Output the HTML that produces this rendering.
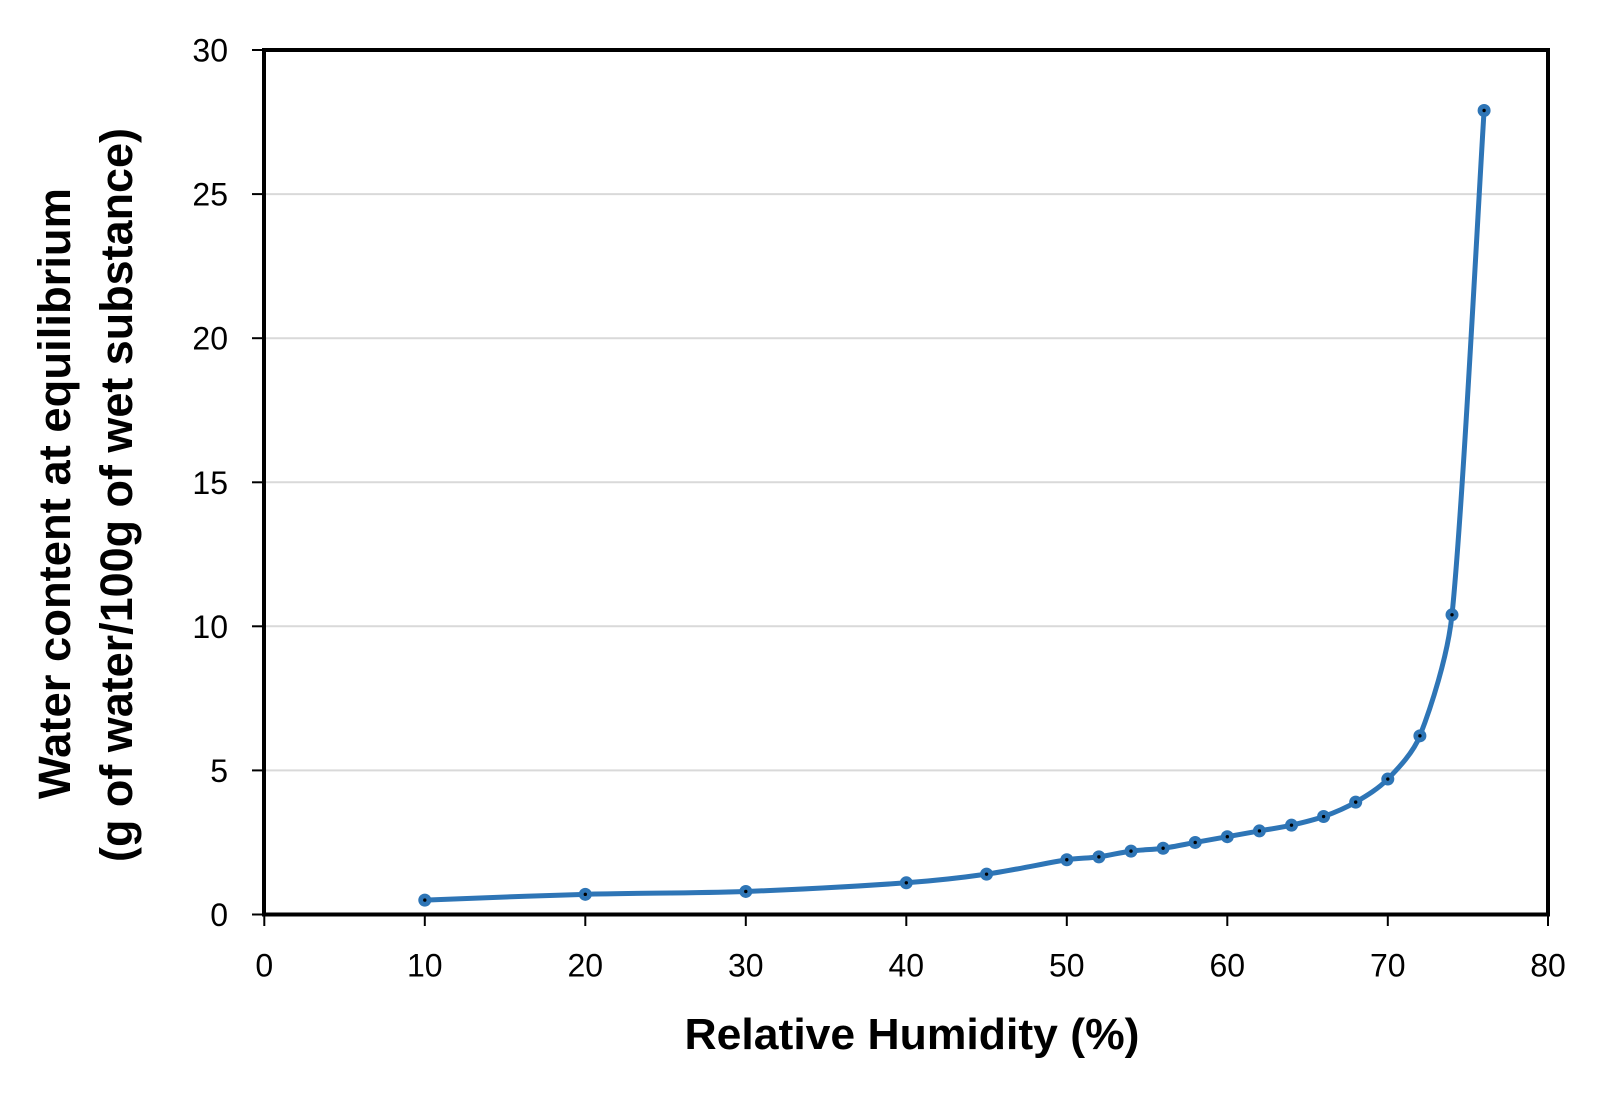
<!DOCTYPE html>
<html>
<head>
<meta charset="utf-8">
<style>
  html,body{margin:0;padding:0;background:#fff;}
  svg{display:block;}
  text{font-family:"Liberation Sans",Arial,sans-serif;fill:#000;}
</style>
</head>
<body>
<svg id="chart" width="1600" height="1097" viewBox="0 0 1600 1097" xmlns="http://www.w3.org/2000/svg">
  <rect x="0" y="0" width="1600" height="1097" fill="#fff"/>
  <!-- gridlines -->
  <g stroke="#d9d9d9" stroke-width="2">
    <line x1="266" y1="770.4" x2="1546" y2="770.4"/>
    <line x1="266" y1="626.3" x2="1546" y2="626.3"/>
    <line x1="266" y1="482.3" x2="1546" y2="482.3"/>
    <line x1="266" y1="338.2" x2="1546" y2="338.2"/>
    <line x1="266" y1="194.1" x2="1546" y2="194.1"/>
  </g>
  <!-- ticks -->
  <g stroke="#000" stroke-width="2">
    <line x1="252" y1="914.5" x2="264" y2="914.5"/>
    <line x1="252" y1="770.4" x2="264" y2="770.4"/>
    <line x1="252" y1="626.3" x2="264" y2="626.3"/>
    <line x1="252" y1="482.3" x2="264" y2="482.3"/>
    <line x1="252" y1="338.2" x2="264" y2="338.2"/>
    <line x1="252" y1="194.1" x2="264" y2="194.1"/>
    <line x1="252" y1="50" x2="264" y2="50"/>
    <line x1="264.3" y1="914" x2="264.3" y2="926"/>
    <line x1="424.8" y1="914" x2="424.8" y2="926"/>
    <line x1="585.3" y1="914" x2="585.3" y2="926"/>
    <line x1="745.8" y1="914" x2="745.8" y2="926"/>
    <line x1="906.3" y1="914" x2="906.3" y2="926"/>
    <line x1="1066.8" y1="914" x2="1066.8" y2="926"/>
    <line x1="1227.3" y1="914" x2="1227.3" y2="926"/>
    <line x1="1387.8" y1="914" x2="1387.8" y2="926"/>
    <line x1="1548" y1="914" x2="1548" y2="926"/>
  </g>
  <!-- frame -->
  <rect x="264" y="50" width="1284" height="864.5" fill="none" stroke="#000" stroke-width="4"/>

  <!-- y tick labels -->
  <g font-size="32" text-anchor="end">
    <text x="228" y="926">0</text>
    <text x="228" y="781.9">5</text>
    <text x="228" y="637.8">10</text>
    <text x="228" y="493.8">15</text>
    <text x="228" y="349.7">20</text>
    <text x="228" y="205.6">25</text>
    <text x="228" y="61.5">30</text>
  </g>
  <!-- x tick labels -->
  <g font-size="32" text-anchor="middle">
    <text x="264.3" y="976.5">0</text>
    <text x="424.8" y="976.5">10</text>
    <text x="585.3" y="976.5">20</text>
    <text x="745.8" y="976.5">30</text>
    <text x="906.3" y="976.5">40</text>
    <text x="1066.8" y="976.5">50</text>
    <text x="1227.3" y="976.5">60</text>
    <text x="1387.8" y="976.5">70</text>
    <text x="1548" y="976.5">80</text>
  </g>

  <!-- axis titles -->
  <text x="912" y="1049" font-size="44" font-weight="bold" text-anchor="middle" textLength="455" lengthAdjust="spacingAndGlyphs">Relative Humidity (%)</text>
  <text transform="translate(70,493.5) rotate(-90)" font-size="45" font-weight="bold" text-anchor="middle" textLength="611" lengthAdjust="spacingAndGlyphs">Water content at equilibrium</text>
  <text transform="translate(132,495) rotate(-90)" font-size="45" font-weight="bold" text-anchor="middle" textLength="734" lengthAdjust="spacingAndGlyphs">(g of water/100g of wet substance)</text>

  <!-- series -->
  <path id="curve" d="" fill="none" stroke="#2e75b6" stroke-width="5" stroke-linejoin="round" stroke-linecap="round"/>
  <g id="markers"></g>
</svg>
<script>
(function(){
  var data=[[10,0.5],[20,0.7],[30,0.8],[40,1.1],[45,1.4],[50,1.9],[52,2.0],[54,2.2],[56,2.3],[58,2.5],[60,2.7],[62,2.9],[64,3.1],[66,3.4],[68,3.9],[70,4.7],[72,6.2],[74,10.4],[76,27.9]];
  function X(v){return 264.3+16.05*v;}
  function Y(v){return 914.5-28.817*v;}
  var p=data.map(function(d){return [X(d[0]),Y(d[1])];});
  var n=p.length;
  function clamp(vx,vy,maxLen){
    var l=Math.sqrt(vx*vx+vy*vy);
    if(l>maxLen&&l>0){var s=maxLen/l;return [vx*s,vy*s];}
    return [vx,vy];
  }
  var d="M"+p[0][0].toFixed(2)+","+p[0][1].toFixed(2);
  for(var i=0;i<n-1;i++){
    var p0=p[i>0?i-1:i], p1=p[i], p2=p[i+1], p3=p[i+2<n?i+2:i+1];
    var segLen=Math.sqrt(Math.pow(p2[0]-p1[0],2)+Math.pow(p2[1]-p1[1],2));
    var t1=clamp((p2[0]-p0[0])/6,(p2[1]-p0[1])/6,segLen/3);
    var t2=clamp((p3[0]-p1[0])/6,(p3[1]-p1[1])/6,segLen/3);
    var c1x=p1[0]+t1[0], c1y=p1[1]+t1[1];
    var c2x=p2[0]-t2[0], c2y=p2[1]-t2[1];
    d+=" C"+c1x.toFixed(2)+","+c1y.toFixed(2)+" "+c2x.toFixed(2)+","+c2y.toFixed(2)+" "+p2[0].toFixed(2)+","+p2[1].toFixed(2);
  }
  document.getElementById("curve").setAttribute("d",d);
  var g=document.getElementById("markers");
  var ns="http://www.w3.org/2000/svg";
  p.forEach(function(q){
    var c=document.createElementNS(ns,"circle");
    c.setAttribute("cx",q[0]);c.setAttribute("cy",q[1]);c.setAttribute("r","6.5");
    c.setAttribute("fill","#2e75b6");
    g.appendChild(c);
    var c2=document.createElementNS(ns,"circle");
    c2.setAttribute("cx",q[0]);c2.setAttribute("cy",q[1]);c2.setAttribute("r","1.7");
    c2.setAttribute("fill","#000");
    g.appendChild(c2);
  });
})();
</script>
</body>
</html>
